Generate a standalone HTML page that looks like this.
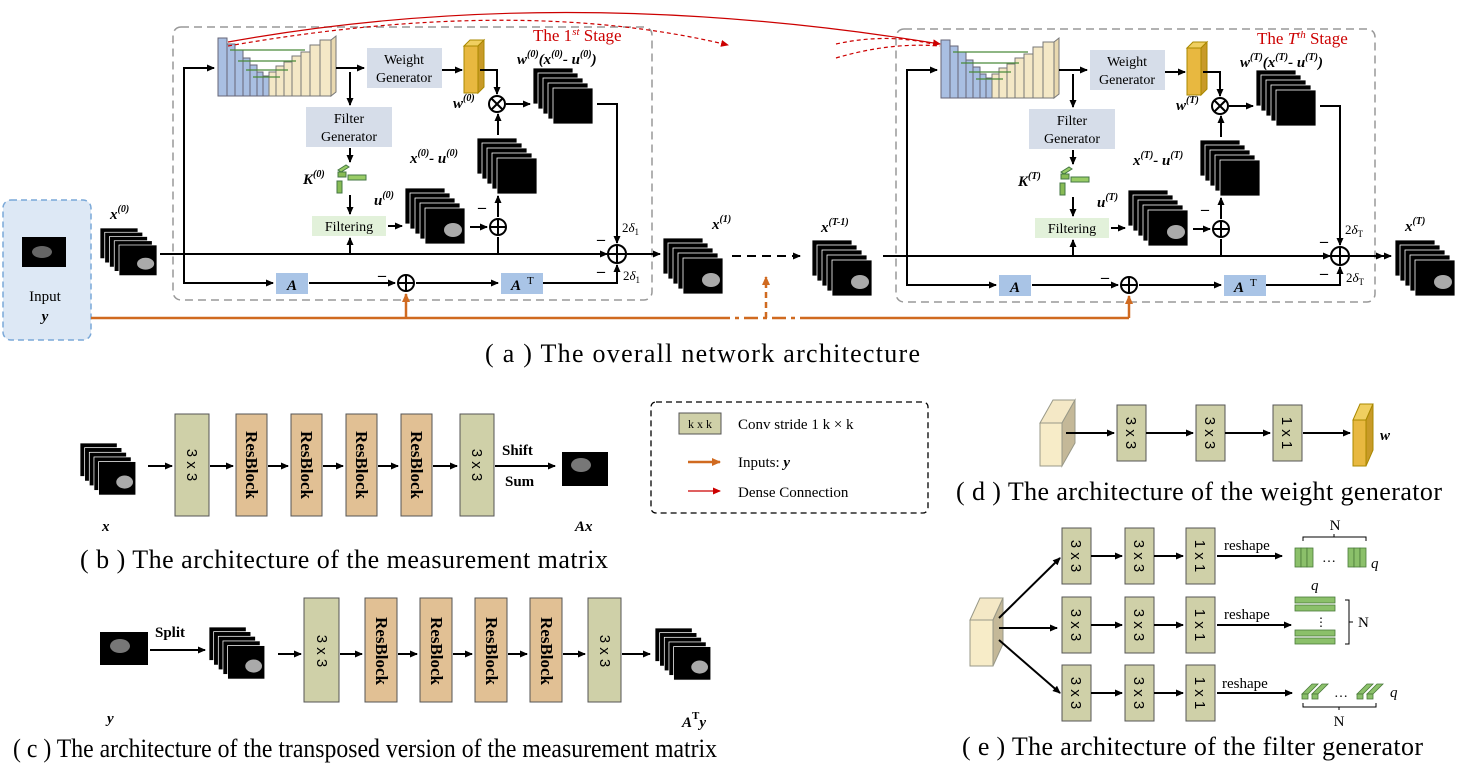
<!DOCTYPE html>
<html><head><meta charset="utf-8"><style>
html,body{margin:0;padding:0;background:#fff}
svg{display:block}
text{font-family:"Liberation Serif",serif}
.lb{font-weight:bold;font-style:italic;font-size:15px}
.cap{font-size:26px}
.vt{font-family:"Liberation Sans",sans-serif;font-size:15px}
.rb{font-weight:bold;font-size:17px}
</style></head><body>
<svg width="1463" height="780" viewBox="0 0 1463 780" xmlns="http://www.w3.org/2000/svg">
<defs>
<marker id="ar" markerWidth="8" markerHeight="8" refX="7" refY="4" orient="auto" markerUnits="userSpaceOnUse"><path d="M0,0.5 L8,4 L0,7.5z" fill="#000"/></marker>
<marker id="ao" markerWidth="9" markerHeight="9" refX="8" refY="4.5" orient="auto" markerUnits="userSpaceOnUse"><path d="M0,0.5 L9,4.5 L0,8.5z" fill="#d06a20"/></marker>
<marker id="arr" markerWidth="8" markerHeight="8" refX="7" refY="4" orient="auto" markerUnits="userSpaceOnUse"><path d="M0,0.5 L8,4 L0,7.5z" fill="#c00"/></marker>
<g id="stk">
<rect x="0" y="0" width="40" height="36" fill="#000" stroke="#fff" stroke-width="0.8"/>
<rect x="5" y="5" width="40" height="36" fill="#000" stroke="#fff" stroke-width="0.8"/>
<rect x="10" y="10" width="40" height="36" fill="#000" stroke="#fff" stroke-width="0.8"/>
<rect x="15" y="15" width="40" height="36" fill="#000" stroke="#fff" stroke-width="0.8"/>
<rect x="20" y="20" width="40" height="36" fill="#000" stroke="#fff" stroke-width="0.8"/>
</g>
<g id="stkb">
<use href="#stk"/>
<ellipse cx="48" cy="42" rx="9" ry="7" fill="#aaa"/>
</g>
<g id="unet">
<rect x="218" y="38" width="9" height="58" fill="#a9bfe2" stroke="#667"/>
<rect x="227" y="44" width="8" height="52" fill="#a9bfe2" stroke="#667"/>
<rect x="235" y="50" width="8" height="46" fill="#a9bfe2" stroke="#667"/>
<rect x="243" y="58" width="7" height="38" fill="#a9bfe2" stroke="#667"/>
<rect x="250" y="65" width="7" height="31" fill="#a9bfe2" stroke="#667"/>
<rect x="257" y="72" width="6" height="24" fill="#a9bfe2" stroke="#667"/>
<rect x="263" y="76" width="6" height="20" fill="#a9bfe2" stroke="#667"/>
<rect x="269" y="72" width="7" height="24" fill="#f4e8c6" stroke="#777"/>
<rect x="276" y="66" width="8" height="30" fill="#f4e8c6" stroke="#777"/>
<rect x="284" y="62" width="8" height="34" fill="#f4e8c6" stroke="#777"/>
<rect x="292" y="56" width="9" height="40" fill="#f4e8c6" stroke="#777"/>
<rect x="301" y="52" width="9" height="44" fill="#f4e8c6" stroke="#777"/>
<rect x="310" y="45" width="10" height="51" fill="#f4e8c6" stroke="#777"/>
<rect x="320" y="40" width="11" height="56" fill="#f4e8c6" stroke="#777"/>
<polygon points="331,40 336,36 336,92 331,96" fill="#e9d9b0" stroke="#777"/>
<line x1="230" y1="50" x2="305" y2="50" stroke="#4a8a3a" stroke-width="1.2"/>
<line x1="238" y1="61" x2="296" y2="61" stroke="#4a8a3a" stroke-width="1.2"/>
<line x1="246" y1="70" x2="288" y2="70" stroke="#4a8a3a" stroke-width="1.2"/>
<line x1="253" y1="77" x2="280" y2="77" stroke="#4a8a3a" stroke-width="1.2"/>
</g>
<g id="kern">
<polygon points="338,170 346,165 349,167 341,172" fill="#9c6" stroke="#474"/>
<rect x="338" y="172" width="8" height="5" fill="#8b5" stroke="#474"/>
<rect x="348" y="175" width="18" height="5" fill="#9c6" stroke="#474"/>
<rect x="337" y="181" width="5" height="12" fill="#8b5" stroke="#474"/>
</g>
<g id="stage">
<rect x="173" y="27" width="479" height="273" rx="8" fill="none" stroke="#999" stroke-width="1.5" stroke-dasharray="8,5"/>
<use href="#unet"/>
<rect x="367" y="48" width="75" height="40" fill="#d6dde9"/>
<text x="404" y="64" text-anchor="middle" font-size="14">Weight</text>
<text x="404" y="82" text-anchor="middle" font-size="14">Generator</text>
<polygon points="464,46 470,40 484,40 478,46" fill="#f0cf60" stroke="#a80"/>
<rect x="464" y="46" width="14" height="47" fill="#e8b840" stroke="#a80"/>
<polygon points="478,46 484,40 484,87 478,93" fill="#c89a28" stroke="#a80"/>
<rect x="306" y="107" width="86" height="40" fill="#d6dde9"/>
<text x="349" y="123" text-anchor="middle" font-size="14">Filter</text>
<text x="349" y="141" text-anchor="middle" font-size="14">Generator</text>
<use href="#kern"/>
<rect x="312" y="216" width="74" height="20" fill="#e2f1da"/>
<text x="349" y="231" text-anchor="middle" font-size="14">Filtering</text>
<g fill="none" stroke="#000" stroke-width="2">
<line x1="336" y1="68" x2="364" y2="68" marker-end="url(#ar)"/>
<line x1="442" y1="70" x2="462" y2="70" marker-end="url(#ar)"/>
<polyline points="480,70 497,70 497,94" marker-end="url(#ar)"/>
<line x1="350" y1="72" x2="350" y2="105" marker-end="url(#ar)"/>
<line x1="350" y1="148" x2="350" y2="162" marker-end="url(#ar)"/>
<line x1="350" y1="195" x2="350" y2="214" marker-end="url(#ar)"/>
<line x1="160" y1="254" x2="607" y2="254" marker-end="url(#ar)"/>
<line x1="627" y1="254" x2="660" y2="254" marker-end="url(#ar)"/>
<line x1="350" y1="254" x2="350" y2="238" marker-end="url(#ar)"/>
<line x1="498" y1="254" x2="498" y2="237" />
<line x1="498" y1="217" x2="498" y2="196" marker-end="url(#ar)"/>
<line x1="498" y1="135" x2="498" y2="114" marker-end="url(#ar)"/>
<line x1="388" y1="226" x2="402" y2="226" marker-end="url(#ar)"/>
<line x1="470" y1="227" x2="487" y2="227" marker-end="url(#ar)"/>
<line x1="506" y1="104" x2="530" y2="104" marker-end="url(#ar)"/>
<polyline points="597,104 617,104 617,243" marker-end="url(#ar)"/>
<polyline points="184,254 184,68 214,68" marker-end="url(#ar)"/>
<polyline points="184,254 184,283 273,283" marker-end="url(#ar)"/>
<line x1="309" y1="283" x2="395" y2="283" marker-end="url(#ar)"/>
<line x1="416" y1="283" x2="498" y2="283" marker-end="url(#ar)"/>
<polyline points="543,283 617,283 617,265" marker-end="url(#ar)"/>
<circle cx="497" cy="104" r="8"/>
<line x1="491" y1="98" x2="503" y2="110"/><line x1="503" y1="98" x2="491" y2="110"/>
<circle cx="498" cy="227" r="8"/><line x1="490" y1="227" x2="506" y2="227"/><line x1="498" y1="219" x2="498" y2="235"/>
<circle cx="617" cy="254" r="9"/><line x1="608" y1="254" x2="626" y2="254"/><line x1="617" y1="245" x2="617" y2="263"/>
<circle cx="406" cy="283" r="8"/><line x1="398" y1="283" x2="414" y2="283"/><line x1="406" y1="275" x2="406" y2="291"/>
</g>
<rect x="276" y="273" width="32" height="21" fill="#a9c4e6"/>
<text x="292" y="290" text-anchor="middle" class="lb" font-size="16">A</text>
<rect x="501" y="273" width="42" height="21" fill="#a9c4e6"/>
<text x="516" y="290" text-anchor="middle" class="lb" font-size="16">A</text><text x="527" y="284" font-size="11">T</text>
<use href="#stk" transform="translate(533,68)"/>
<use href="#stk" transform="translate(477,138)"/>
<use href="#stkb" transform="translate(405,188)"/>
<text x="478" y="212" font-size="16" font-weight="bold">–</text>
<text x="597" y="244" font-size="16" font-weight="bold">–</text>
<text x="597" y="276" font-size="16" font-weight="bold">–</text>
<text x="378" y="280" font-size="16" font-weight="bold">–</text>
</g>
</defs>

<!-- Input -->
<rect x="3" y="200" width="88" height="140" rx="8" fill="#dde8f5" stroke="#7aa8d8" stroke-width="1.5" stroke-dasharray="6,4"/>
<rect x="22" y="237" width="44" height="30" fill="#000"/>
<ellipse cx="42" cy="252" rx="10" ry="6" fill="#666"/>
<text x="45" y="301" text-anchor="middle" font-size="15">Input</text>
<text x="45" y="321" text-anchor="middle" class="lb" font-size="16">y</text>

<text x="110" y="219" class="lb">x<tspan font-size="10" dy="-7">(0)</tspan></text>
<use href="#stkb" transform="translate(100,228) scale(0.95,0.85)"/>

<!-- stages -->
<use href="#stage"/>
<use href="#stage" transform="translate(723,2)"/>

<!-- stage 1 labels -->
<text x="533" y="41" fill="#c00" font-size="17">The 1<tspan font-style="italic" font-size="11" dy="-6">st</tspan><tspan dy="6"> Stage</tspan></text>
<text x="517" y="64" class="lb">w<tspan font-size="10" dy="-7">(0)</tspan><tspan dy="7">(x</tspan><tspan font-size="10" dy="-7">(0)</tspan><tspan dy="7">- u</tspan><tspan font-size="10" dy="-7">(0)</tspan><tspan dy="7">)</tspan></text>
<text x="453" y="108" class="lb">w<tspan font-size="10" dy="-7">(0)</tspan></text>
<text x="410" y="163" class="lb">x<tspan font-size="10" dy="-7">(0)</tspan><tspan dy="7">- u</tspan><tspan font-size="10" dy="-7">(0)</tspan></text>
<text x="303" y="184" class="lb">K<tspan font-size="10" dy="-7">(0)</tspan></text>
<text x="374" y="205" class="lb">u<tspan font-size="10" dy="-7">(0)</tspan></text>
<text x="622" y="232" font-size="13">2<tspan font-style="italic">δ</tspan><tspan font-size="9" dy="3">1</tspan></text>
<text x="623" y="280" font-size="13">2<tspan font-style="italic">δ</tspan><tspan font-size="9" dy="3">1</tspan></text>
<!-- stage T labels -->
<text x="1257" y="44" fill="#c00" font-size="17">The <tspan font-style="italic">T</tspan><tspan font-style="italic" font-size="11" dy="-6">th</tspan><tspan dy="6"> Stage</tspan></text>
<text x="1240" y="67" class="lb">w<tspan font-size="10" dy="-7">(T)</tspan><tspan dy="7">(x</tspan><tspan font-size="10" dy="-7">(T)</tspan><tspan dy="7">- u</tspan><tspan font-size="10" dy="-7">(T)</tspan><tspan dy="7">)</tspan></text>
<text x="1176" y="110" class="lb">w<tspan font-size="10" dy="-7">(T)</tspan></text>
<text x="1133" y="165" class="lb">x<tspan font-size="10" dy="-7">(T)</tspan><tspan dy="7">- u</tspan><tspan font-size="10" dy="-7">(T)</tspan></text>
<text x="1018" y="186" class="lb">K<tspan font-size="10" dy="-7">(T)</tspan></text>
<text x="1097" y="207" class="lb">u<tspan font-size="10" dy="-7">(T)</tspan></text>
<text x="1345" y="234" font-size="13">2<tspan font-style="italic">δ</tspan><tspan font-size="9" dy="3">T</tspan></text>
<text x="1346" y="282" font-size="13">2<tspan font-style="italic">δ</tspan><tspan font-size="9" dy="3">T</tspan></text>

<!-- middle -->
<text x="712" y="229" class="lb">x<tspan font-size="10" dy="-7">(1)</tspan></text>
<use href="#stkb" transform="translate(663,238)"/>
<line x1="732" y1="256" x2="800" y2="256" stroke="#000" stroke-width="2" stroke-dasharray="9,6" marker-end="url(#ar)"/>
<text x="821" y="232" class="lb">x<tspan font-size="10" dy="-7">(T-1)</tspan></text>
<use href="#stkb" transform="translate(812,240)"/>
<text x="1405" y="231" class="lb">x<tspan font-size="10" dy="-7">(T)</tspan></text>
<use href="#stkb" transform="translate(1395,240)"/>
<line x1="1351" y1="256" x2="1391" y2="256" stroke="#000" stroke-width="2" marker-end="url(#ar)"/>

<!-- orange -->
<g stroke="#d06a20" stroke-width="2.5" fill="none">
<line x1="91" y1="318" x2="716" y2="318"/>
<line x1="716" y1="318" x2="810" y2="318" stroke-dasharray="14,5,4,5"/>
<line x1="810" y1="318" x2="1129" y2="318"/>
<line x1="406" y1="318" x2="406" y2="294" marker-end="url(#ao)"/>
<line x1="1129" y1="318" x2="1129" y2="296" marker-end="url(#ao)"/>
<line x1="766" y1="318" x2="766" y2="277" stroke-dasharray="6,4" marker-end="url(#ao)"/>
</g>
<!-- red dense -->
<g stroke="#c00" stroke-width="1.2" fill="none">
<path d="M228,42 Q560,-18 940,44" marker-end="url(#arr)"/>
<path d="M228,46 Q520,-5 728,45" stroke-dasharray="4,3" marker-end="url(#arr)"/>
<path d="M836,44 Q890,32 940,46" stroke-dasharray="4,3"/>
<path d="M836,58 Q890,42 940,46" stroke-dasharray="4,3"/>
</g>

<text x="485" y="362" class="cap" textLength="435" lengthAdjust="spacing">( a )   The overall network architecture</text>

<!-- (b) -->
<use href="#stkb" transform="translate(80,443) scale(0.93)"/>
<text x="102" y="531" class="lb" font-size="18">x</text>
<g stroke="#555" stroke-width="1">
<rect x="175" y="414" width="34" height="102" fill="#cfd0a8"/>
<rect x="236" y="414" width="31" height="102" fill="#e1c094"/>
<rect x="291" y="414" width="31" height="102" fill="#e1c094"/>
<rect x="346" y="414" width="31" height="102" fill="#e1c094"/>
<rect x="401" y="414" width="31" height="102" fill="#e1c094"/>
<rect x="460" y="414" width="34" height="102" fill="#cfd0a8"/>
</g>
<g stroke="#000" stroke-width="2" marker-end="url(#ar)">
<line x1="148" y1="466" x2="172" y2="466"/>
<line x1="210" y1="466" x2="233" y2="466"/>
<line x1="268" y1="466" x2="288" y2="466"/>
<line x1="323" y1="466" x2="343" y2="466"/>
<line x1="378" y1="466" x2="398" y2="466"/>
<line x1="433" y1="466" x2="457" y2="466"/>
<line x1="495" y1="466" x2="555" y2="466"/>
</g>
<text transform="translate(187,465) rotate(90)" text-anchor="middle" class="vt">3 x 3</text>
<text transform="translate(472,465) rotate(90)" text-anchor="middle" class="vt">3 x 3</text>
<text transform="translate(246,465) rotate(90)" text-anchor="middle" class="rb">ResBlock</text>
<text transform="translate(301,465) rotate(90)" text-anchor="middle" class="rb">ResBlock</text>
<text transform="translate(356,465) rotate(90)" text-anchor="middle" class="rb">ResBlock</text>
<text transform="translate(411,465) rotate(90)" text-anchor="middle" class="rb">ResBlock</text>
<text x="502" y="455" font-weight="bold" font-size="15">Shift</text>
<text x="505" y="486" font-weight="bold" font-size="15">Sum</text>
<rect x="562" y="452" width="46" height="34" fill="#000"/>
<ellipse cx="581" cy="465" rx="10" ry="7" fill="#777"/>
<text x="575" y="531" class="lb" font-size="18">Ax</text>
<text x="80" y="568" class="cap" textLength="528" lengthAdjust="spacing">( b ) The architecture of the measurement matrix</text>

<!-- legend -->
<rect x="651" y="402" width="277" height="111" rx="5" fill="none" stroke="#000" stroke-width="1.3" stroke-dasharray="6,4"/>
<rect x="679" y="413" width="42" height="21" fill="#cfd0a8" stroke="#555"/>
<text x="700" y="428" text-anchor="middle" font-family="Liberation Sans,sans-serif" font-size="12">k x k</text>
<text x="738" y="429" font-size="15">Conv  stride 1  k × k</text>
<line x1="688" y1="462" x2="720" y2="462" stroke="#d06a20" stroke-width="2.5" marker-end="url(#ao)"/>
<text x="738" y="467" font-size="15">Inputs:   <tspan class="lb">y</tspan></text>
<line x1="688" y1="491" x2="720" y2="491" stroke="#c00" stroke-width="1.2" marker-end="url(#arr)"/>
<text x="738" y="497" font-size="15">Dense Connection</text>

<!-- (c) -->
<rect x="100" y="632" width="48" height="33" fill="#000"/>
<ellipse cx="120" cy="646" rx="10" ry="7" fill="#777"/>
<text x="155" y="637" font-weight="bold" font-size="15">Split</text>
<line x1="150" y1="650" x2="205" y2="650" stroke="#000" stroke-width="2" marker-end="url(#ar)"/>
<use href="#stkb" transform="translate(209,627) scale(0.93)"/>
<text x="107" y="723" class="lb" font-size="18">y</text>
<g stroke="#555" stroke-width="1">
<rect x="304" y="598" width="35" height="104" fill="#cfd0a8"/>
<rect x="365" y="598" width="32" height="104" fill="#e1c094"/>
<rect x="420" y="598" width="32" height="104" fill="#e1c094"/>
<rect x="475" y="598" width="32" height="104" fill="#e1c094"/>
<rect x="530" y="598" width="32" height="104" fill="#e1c094"/>
<rect x="588" y="598" width="33" height="104" fill="#cfd0a8"/>
</g>
<g stroke="#000" stroke-width="2" marker-end="url(#ar)">
<line x1="278" y1="654" x2="301" y2="654"/>
<line x1="340" y1="654" x2="362" y2="654"/>
<line x1="398" y1="654" x2="417" y2="654"/>
<line x1="453" y1="654" x2="472" y2="654"/>
<line x1="508" y1="654" x2="527" y2="654"/>
<line x1="563" y1="654" x2="585" y2="654"/>
<line x1="622" y1="654" x2="650" y2="654"/>
</g>
<text transform="translate(317,651) rotate(90)" text-anchor="middle" class="vt">3 x 3</text>
<text transform="translate(600,651) rotate(90)" text-anchor="middle" class="vt">3 x 3</text>
<text transform="translate(376,651) rotate(90)" text-anchor="middle" class="rb">ResBlock</text>
<text transform="translate(431,651) rotate(90)" text-anchor="middle" class="rb">ResBlock</text>
<text transform="translate(486,651) rotate(90)" text-anchor="middle" class="rb">ResBlock</text>
<text transform="translate(541,651) rotate(90)" text-anchor="middle" class="rb">ResBlock</text>
<use href="#stkb" transform="translate(655,628) scale(0.93)"/>
<text x="682" y="727" class="lb" font-size="18">A<tspan font-size="11" dy="-8" font-style="normal">T</tspan><tspan dy="8">y</tspan></text>
<text x="13" y="757" class="cap" textLength="704" lengthAdjust="spacingAndGlyphs">( c ) The architecture of the transposed version of  the measurement matrix</text>

<!-- (d) -->
<polygon points="1040,423 1053,400 1075,400 1062,423" fill="#f4e8c6" stroke="#998"/>
<rect x="1040" y="423" width="22" height="43" fill="#f7ecc8" stroke="#998"/>
<polygon points="1062,423 1075,400 1075,443 1062,466" fill="#c4b898" stroke="#998"/>
<g stroke="#555"><rect x="1117" y="405" width="29" height="56" fill="#cfd0a8"/>
<rect x="1196" y="405" width="29" height="56" fill="#cfd0a8"/>
<rect x="1273" y="405" width="29" height="56" fill="#cfd0a8"/></g>
<g stroke="#000" stroke-width="2" marker-end="url(#ar)">
<line x1="1066" y1="433" x2="1114" y2="433"/>
<line x1="1146" y1="433" x2="1193" y2="433"/>
<line x1="1225" y1="433" x2="1270" y2="433"/>
<line x1="1303" y1="433" x2="1350" y2="433"/></g>
<text transform="translate(1126,433) rotate(90)" text-anchor="middle" class="vt">3 x 3</text>
<text transform="translate(1205,433) rotate(90)" text-anchor="middle" class="vt">3 x 3</text>
<text transform="translate(1282,433) rotate(90)" text-anchor="middle" class="vt">1 x 1</text>
<polygon points="1353,420 1360,404 1373,404 1366,420" fill="#f0cf60" stroke="#a80"/>
<rect x="1353" y="420" width="13" height="46" fill="#e8b840" stroke="#a80"/>
<polygon points="1366,420 1373,404 1373,450 1366,466" fill="#c89a28" stroke="#a80"/>
<text x="1380" y="440" class="lb" font-size="19">w</text>
<text x="956" y="500" class="cap" textLength="486" lengthAdjust="spacing">( d ) The architecture of the weight generator</text>

<!-- (e) -->
<polygon points="970,620 980,598 1003,598 993,620" fill="#f4e8c6" stroke="#998"/>
<rect x="970" y="620" width="23" height="46" fill="#f7ecc8" stroke="#998"/>
<polygon points="993,620 1003,598 1003,644 993,666" fill="#c4b898" stroke="#998"/>
<g stroke="#000" stroke-width="2" marker-end="url(#ar)">
<line x1="999" y1="618" x2="1060" y2="558"/>
<line x1="999" y1="628" x2="1057" y2="628"/>
<line x1="999" y1="640" x2="1060" y2="693"/>
</g>
<g stroke="#555">
<rect x="1062" y="528" width="29" height="56" fill="#cfd0a8"/><rect x="1125" y="528" width="29" height="56" fill="#cfd0a8"/><rect x="1186" y="528" width="29" height="56" fill="#cfd0a8"/>
<rect x="1062" y="597" width="29" height="56" fill="#cfd0a8"/><rect x="1125" y="597" width="29" height="56" fill="#cfd0a8"/><rect x="1186" y="597" width="29" height="56" fill="#cfd0a8"/>
<rect x="1062" y="665" width="29" height="56" fill="#cfd0a8"/><rect x="1125" y="665" width="29" height="56" fill="#cfd0a8"/><rect x="1186" y="665" width="29" height="56" fill="#cfd0a8"/>
</g>
<g stroke="#000" stroke-width="2" marker-end="url(#ar)">
<line x1="1091" y1="556" x2="1122" y2="556"/><line x1="1154" y1="556" x2="1183" y2="556"/><line x1="1217" y1="556" x2="1282" y2="556"/>
<line x1="1091" y1="625" x2="1122" y2="625"/><line x1="1154" y1="625" x2="1183" y2="625"/><line x1="1217" y1="625" x2="1291" y2="625"/>
<line x1="1091" y1="693" x2="1122" y2="693"/><line x1="1154" y1="693" x2="1183" y2="693"/><line x1="1217" y1="693" x2="1292" y2="693"/>
</g>
<text transform="translate(1071,556) rotate(90)" text-anchor="middle" class="vt">3 x 3</text>
<text transform="translate(1134,556) rotate(90)" text-anchor="middle" class="vt">3 x 3</text>
<text transform="translate(1195,556) rotate(90)" text-anchor="middle" class="vt">1 x 1</text>
<text transform="translate(1071,625) rotate(90)" text-anchor="middle" class="vt">3 x 3</text>
<text transform="translate(1134,625) rotate(90)" text-anchor="middle" class="vt">3 x 3</text>
<text transform="translate(1195,625) rotate(90)" text-anchor="middle" class="vt">1 x 1</text>
<text transform="translate(1071,693) rotate(90)" text-anchor="middle" class="vt">3 x 3</text>
<text transform="translate(1134,693) rotate(90)" text-anchor="middle" class="vt">3 x 3</text>
<text transform="translate(1195,693) rotate(90)" text-anchor="middle" class="vt">1 x 1</text>
<text x="1224" y="550" font-size="15">reshape</text>
<text x="1224" y="619" font-size="15">reshape</text>
<text x="1222" y="688" font-size="15">reshape</text>
<g fill="#8bc06a" stroke="#4a7a3a" stroke-width="0.8">
<rect x="1295" y="548" width="6" height="19"/><rect x="1301" y="548" width="6" height="19"/><rect x="1307" y="548" width="6" height="19"/>
<rect x="1348" y="548" width="6" height="19"/><rect x="1354" y="548" width="6" height="19"/><rect x="1360" y="548" width="6" height="19"/>
<rect x="1295" y="597" width="40" height="6"/><rect x="1295" y="605" width="40" height="6"/>
<rect x="1295" y="630" width="40" height="6"/><rect x="1295" y="638" width="40" height="6"/>
<polygon points="1302,694 1312,684 1318,684 1308,694"/><rect x="1302" y="694" width="6" height="5"/>
<polygon points="1312,694 1322,684 1328,684 1318,694"/><rect x="1312" y="694" width="6" height="5"/>
<polygon points="1357,694 1367,684 1373,684 1363,694"/><rect x="1357" y="694" width="6" height="5"/>
<polygon points="1367,694 1377,684 1383,684 1373,694"/><rect x="1367" y="694" width="6" height="5"/>
</g>
<text x="1322" y="562" font-size="14">…</text>
<text x="1334" y="697" font-size="14">…</text>
<text x="1315" y="626" font-size="12">⋮</text>
<g stroke="#000" stroke-width="1" fill="none">
<path d="M1303,541 v-4 h63 v4 M1334,537 v-3"/>
<path d="M1345,600 h4 v44 h-4 M1349,622 h4"/>
<path d="M1303,703 v4 h73 v-4 M1339,707 v3"/>
</g>
<text x="1335" y="530" text-anchor="middle" font-size="15">N</text>
<text x="1371" y="568" font-style="italic" font-size="15">q</text>
<text x="1311" y="590" font-style="italic" font-size="15">q</text>
<text x="1358" y="627" font-size="15">N</text>
<text x="1390" y="697" font-style="italic" font-size="15">q</text>
<text x="1339" y="726" text-anchor="middle" font-size="15">N</text>
<text x="962" y="755" class="cap" textLength="461" lengthAdjust="spacing">( e ) The architecture of the filter generator</text>
</svg>
</body></html>
